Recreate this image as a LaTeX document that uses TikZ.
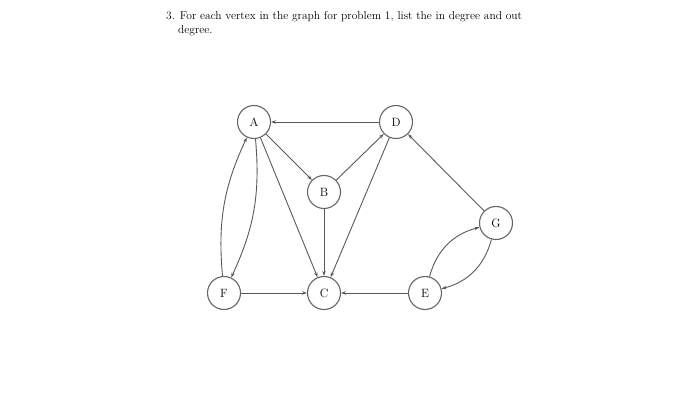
\documentclass[tikz,border=0pt]{standalone}
\usetikzlibrary{arrows.meta}
\begin{document}
\begin{tikzpicture}[x=1pt,y=-1pt,
  vtx/.style={circle,draw=black!60,line width=1.1pt,minimum size=33pt,inner sep=0pt,font=\fontsize{12}{14}\selectfont},
  edge/.style={draw=black!65,line width=0.9pt,-{Stealth[length=5pt,width=3.5pt]}},
  txt/.style={anchor=west,font=\fontsize{11.5}{14}\selectfont,inner sep=0pt}]
\useasboundingbox (0,0) rectangle (700,419);
\node[txt] (t1) at (166,17) {3. For each vertex in the graph for problem 1, list the in degree and out};
\node[txt] (t2) at (178,31) {degree.};
\node[vtx] (A) at (254,122) {A};
\node[vtx] (D) at (396,122) {D};
\node[vtx] (B) at (324,192) {B};
\node[vtx] (G) at (496,223) {G};
\node[vtx] (F) at (224,293) {F};
\node[vtx] (C) at (324,293) {C};
\node[vtx] (E) at (425,293) {E};
\draw[edge] (D) -- (A);
\draw[edge] (A) -- (B);
\draw[edge] (B) -- (D);
\draw[edge] (A) -- (C);
\draw[edge] (D) -- (C);
\draw[edge] (B) -- (C);
\draw[edge] (F) to[bend left=15] (A);
\draw[edge] (A) to[bend left=15] (F);
\draw[edge] (F) -- (C);
\draw[edge] (E) -- (C);
\draw[edge] (G) -- (D);
\draw[edge] (E) to[bend left=30] (G);
\draw[edge] (G) to[bend left=30] (E);
\end{tikzpicture}
\end{document}
